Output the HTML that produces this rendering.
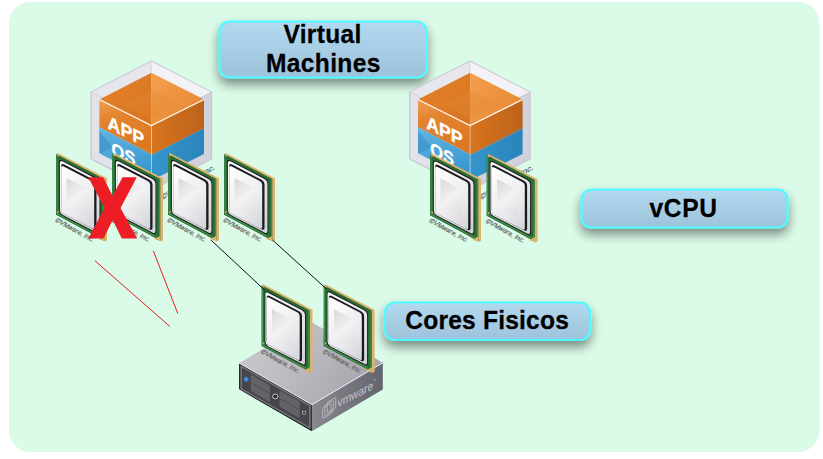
<!DOCTYPE html>
<html><head><meta charset="utf-8"><style>
html,body{margin:0;padding:0;background:#fff;width:823px;height:459px;overflow:hidden}
svg{display:block}
text{font-family:"Liberation Sans",sans-serif}
</style></head><body>
<svg width="823" height="459" viewBox="0 0 823 459">
<defs>
  <linearGradient id="lbl" x1="0" y1="0" x2="0" y2="1">
    <stop offset="0" stop-color="#b3d9ef"/>
    <stop offset="1" stop-color="#9dc3dc"/>
  </linearGradient>
  <filter id="sh" x="-10%" y="-30%" width="120%" height="190%">
    <feGaussianBlur in="SourceAlpha" stdDeviation="5.2"/>
    <feOffset dx="0" dy="5.5" result="b"/>
    <feComponentTransfer><feFuncA type="linear" slope="0.45"/></feComponentTransfer>
    <feMerge><feMergeNode/><feMergeNode in="SourceGraphic"/></feMerge>
  </filter>
  <linearGradient id="rim" x1="0" y1="0" x2="1" y2="1">
    <stop offset="0" stop-color="#fbfbfd"/>
    <stop offset="1" stop-color="#cfcfd8"/>
  </linearGradient>
  <linearGradient id="plate" x1="0" y1="0" x2="1" y2="1">
    <stop offset="0" stop-color="#ffffff"/>
    <stop offset="0.6" stop-color="#ececf0"/>
    <stop offset="1" stop-color="#d2d2da"/>
  </linearGradient>
  <linearGradient id="ihsin" x1="0" y1="0" x2="1" y2="1">
    <stop offset="0" stop-color="#d8d8d8"/>
    <stop offset="0.5" stop-color="#f2f2f2"/>
    <stop offset="1" stop-color="#dcdcdc"/>
  </linearGradient>
  <g id="chip">
    <polygon points="1.2,-0.3 51,25.3 51,87.3 48.3,88.6 1.2,60" fill="#dcb46c"/>
    <polygon points="0,0.9 48.3,26 48.3,87.4 0,61.7" fill="#2a6a35"/>
    <polyline points="1,2.2 1,60.6 47.3,85.5 47.3,26.3" fill="none" stroke="#4a9c58" stroke-width="0.9"/>
    <g transform="matrix(1,0.52,0,1,0,0)">
      <rect x="3.2" y="3.9" width="41.1" height="55.3" rx="3.5" fill="#161616"/>
      <rect x="3.9" y="4.9" width="39.6" height="53.5" rx="3" fill="url(#rim)"/>
      <rect x="5.2" y="7.3" width="35.3" height="49.5" rx="3" fill="#1a1a1a"/>
      <rect x="5.2" y="9.4" width="33" height="47.4" rx="2.5" fill="url(#plate)"/>
      <rect x="10.5" y="19.5" width="21" height="28" fill="url(#ihsin)"/>
    </g>
    <polygon points="42.5,86.6 48.3,82.8 48.3,87.4" fill="#dcb46c"/>
    <circle cx="2.2" cy="59" r="0.9" fill="#e0b060"/>
    <circle cx="2.2" cy="2.3" r="0.9" fill="#e0b060"/>
    <text x="0" y="0" transform="translate(-1.6,68.3) rotate(28.5) skewX(-14)" font-size="6.6" fill="#666" stroke="#666" stroke-width="0.18">©VMware, Inc.</text>
  </g>
  <linearGradient id="orTopL" x1="0" y1="0" x2="1" y2="1">
    <stop offset="0" stop-color="#e3822c"/>
    <stop offset="1" stop-color="#d9741e"/>
  </linearGradient>
  <linearGradient id="orTopR" x1="0" y1="0" x2="1" y2="1">
    <stop offset="0" stop-color="#f4a050"/>
    <stop offset="1" stop-color="#e6842c"/>
  </linearGradient>
  <linearGradient id="orL" x1="0" y1="0" x2="0.3" y2="1">
    <stop offset="0" stop-color="#f0a052"/>
    <stop offset="0.35" stop-color="#e48430"/>
    <stop offset="1" stop-color="#dc7822"/>
  </linearGradient>
  <linearGradient id="orR" x1="0" y1="0" x2="1" y2="0">
    <stop offset="0" stop-color="#d8741f"/>
    <stop offset="1" stop-color="#bc631a"/>
  </linearGradient>
  <linearGradient id="blL" x1="0" y1="0" x2="0.3" y2="1">
    <stop offset="0" stop-color="#62b4e2"/>
    <stop offset="1" stop-color="#3a98d0"/>
  </linearGradient>
  <linearGradient id="blR" x1="0" y1="0" x2="1" y2="0">
    <stop offset="0" stop-color="#3596cc"/>
    <stop offset="1" stop-color="#2a84bc"/>
  </linearGradient>
  <g id="vm">
    <!-- glass outer -->
    <polygon points="151.3,60.3 212.2,91.7 212.2,159.2 151.3,191 90.4,159.2 90.4,91.7" fill="#c9c9d3"/>
    <polygon points="151.3,61.5 151.3,122.5 92,92" fill="#e6e6ec"/>
    <polygon points="151.3,61.5 210.5,92 151.3,122.5" fill="#f3f3f7"/>
    <polygon points="91.8,92.6 151.3,123 151.3,188.8 91.8,158.4" fill="#e2e2ea"/>
    <polygon points="210.8,92.6 151.3,123 151.3,188.8 210.8,158.4" fill="#d2d2dc"/>
    <line x1="151.3" y1="61" x2="151.3" y2="73" stroke="#d4d4dc" stroke-width="0.8"/>
    <!-- inner top -->
    <polygon points="151.5,72.8 151.5,125.6 99.4,99.5" fill="url(#orTopL)"/>
    <polygon points="151.5,72.8 204,99.5 151.5,125.6" fill="url(#orTopR)"/>
    <polygon points="151.5,90 180,104.5 151.5,119 123,104.5" fill="#e58a35" opacity="0.35"/>
    <!-- left face -->
    <polygon points="99.4,99.5 151.5,125.6 151.5,154.4 99.4,127.3" fill="url(#orL)"/>
    <polygon points="99.4,127.3 151.5,154.4 151.5,180.5 99.4,153.3" fill="url(#blL)"/>
    <polygon points="99.4,131 113,147.5 99.4,153.3" fill="#2f86bf" opacity="0.45"/>
    <!-- right face -->
    <polygon points="151.5,125.6 204,99.5 204,128.3 151.5,155" fill="url(#orR)"/>
    <polygon points="151.5,155 204,128.3 204,154 151.5,180.5" fill="url(#blR)"/>
    <!-- highlight edges -->
    <polyline points="99.4,99.5 151.5,125.6 204,99.5" fill="none" stroke="#ffffff" stroke-width="1.3" opacity="0.95"/>
    <line x1="151.5" y1="125.6" x2="151.5" y2="180.5" stroke="#ffffff" stroke-width="0.8" opacity="0.55"/>
    <g transform="matrix(1,0.5,0,1,0,0)" fill="#fff" font-weight="bold" font-size="18" stroke="#fff" stroke-width="0.35">
      <text x="107.6" y="74.4" font-size="18.5" textLength="36.5" lengthAdjust="spacingAndGlyphs">APP</text>
      <text x="111.6" y="98.5" font-size="18" textLength="23.8" lengthAdjust="spacingAndGlyphs">OS</text>
    </g>
    <text transform="matrix(1,-0.59,0,1,0,0)" x="161.5" y="295.8" font-size="8.2" textLength="53.5" lengthAdjust="spacingAndGlyphs" fill="#5a5a62" stroke="#5a5a62" stroke-width="0.15">©VMware, Inc.</text>
  </g>
</defs>

<rect x="9" y="2" width="810.5" height="450" rx="21" fill="#dafbe8"/>

<!-- labels -->
<g filter="url(#sh)">
  <rect x="219.5" y="21.5" width="207" height="56" rx="10" fill="url(#lbl)" stroke="#50faff" stroke-width="2.2"/>
  <rect x="581.5" y="189.5" width="206" height="38" rx="10" fill="url(#lbl)" stroke="#50faff" stroke-width="2.2"/>
  <rect x="385" y="302.5" width="205" height="37.5" rx="10" fill="url(#lbl)" stroke="#50faff" stroke-width="2.2"/>
</g>
<g font-weight="bold" font-size="24.6" fill="#000" text-anchor="middle" stroke="#000" stroke-width="0.25">
  <text x="322.4" y="42.9" textLength="78" transform="matrix(1,0,0,1.055,0,-2.359)">Virtual</text>
  <text x="323.2" y="72.1" textLength="114.5" transform="matrix(1,0,0,1.055,0,-3.965)">Machines</text>
  <text x="683.3" y="217" textLength="67.5" transform="matrix(1,0,0,1.055,0,-11.935)">vCPU</text>
  <text x="487.1" y="328.8" textLength="163.5" transform="matrix(1,0,0,1.055,0,-18.084)">Cores Fisicos</text>
</g>

<!-- VMs -->
<use href="#vm"/>
<use href="#vm" transform="translate(318.6,0)"/>

<!-- chips row -->
<use href="#chip" transform="translate(56,153)"/>
<use href="#chip" transform="translate(112,153)"/>
<use href="#chip" transform="translate(168,153)"/>
<use href="#chip" transform="translate(224,153)"/>
<use href="#chip" transform="translate(430,153.5)"/>
<use href="#chip" transform="translate(486.6,154)"/>

<!-- red X -->
<polygon points="88.2,177.3 103,177.3 112.7,196 122.5,177.3 136.8,177.3 120.5,208 137.2,238.6 121.8,238.6 112.7,220 103.5,238.6 88.2,238.6 104.7,208" fill="#ed1d25"/>

<!-- red lines -->
<line x1="94.9" y1="260.7" x2="169.9" y2="326.5" stroke="#e41e1e" stroke-width="1"/>
<line x1="153.3" y1="250.8" x2="177.8" y2="313.5" stroke="#e41e1e" stroke-width="1"/>
<!-- server -->
<g id="server">
  <linearGradient id="srvTop" x1="0" y1="0" x2="1" y2="0.4">
    <stop offset="0" stop-color="#cacace"/>
    <stop offset="0.5" stop-color="#bcbcc2"/>
    <stop offset="1" stop-color="#a6a6ae"/>
  </linearGradient>
  <linearGradient id="srvR" x1="0" y1="0" x2="1" y2="0">
    <stop offset="0" stop-color="#88888f"/>
    <stop offset="1" stop-color="#64646e"/>
  </linearGradient>
  <polygon points="239.1,363.1 310,321.3 382.8,362.8 311.9,404.6" fill="url(#srvTop)"/>
  <polygon points="239.1,363.1 311.9,404.6 311.9,431.3 239.1,389.3" fill="#111113"/>
  <g transform="matrix(1,0.57,0,1,0,0)">
    <rect x="240.3" y="228" width="70.4" height="24.2" fill="#7a7a80"/>
    <rect x="241.9" y="229.6" width="67.2" height="21" fill="#46464a"/>
    <rect x="250.8" y="231.5" width="19.2" height="16.5" fill="#646468"/>
    <rect x="279.6" y="231" width="20" height="16.5" fill="#646468"/>
    <line x1="250.8" y1="239.7" x2="270" y2="239.7" stroke="#4a4a4e" stroke-width="0.8"/>
    <line x1="279.6" y1="239.2" x2="299.6" y2="239.2" stroke="#4a4a4e" stroke-width="0.8"/>
  </g>
  <polygon points="311.9,404.6 382.8,362.8 382.8,389.5 311.9,431.3" fill="url(#srvR)"/>
  <polyline points="239.1,363.1 311.9,404.6 382.8,362.8" fill="none" stroke="#f2f2f6" stroke-width="1"/>
  <circle cx="246.2" cy="379.2" r="1.7" fill="#4a9cff"/>
  <circle cx="246.2" cy="379.2" r="2.9" fill="#3a90ff" opacity="0.35"/>
  <ellipse cx="275.3" cy="396.4" rx="2.6" ry="2.4" fill="#2a2a2c" stroke="#d8d8dc" stroke-width="0.9"/>
  <rect x="302.3" y="411.5" width="3.4" height="2.6" fill="#2a2a2c" stroke="#d8d8dc" stroke-width="0.6"/>
  <g transform="matrix(1,-0.51,0,1,0,0)">
    <text x="337.6" y="579.5" font-size="12" fill="#c4c4ca" textLength="35.5" lengthAdjust="spacingAndGlyphs">vmware</text>
    <circle cx="375" cy="571" r="0.8" fill="none" stroke="#c4c4ca" stroke-width="0.4"/>
  </g>
  <g transform="matrix(1,-0.59,0,1,0,0)">
    <rect x="322.6" y="598.5" width="8.5" height="10.5" rx="1" fill="none" stroke="#c0c0c6" stroke-width="0.7"/>
    <rect x="324.9" y="597" width="8.5" height="10.5" rx="1" fill="none" stroke="#c0c0c6" stroke-width="0.7"/>
    <rect x="327.2" y="595.5" width="8.5" height="10.5" rx="1" fill="none" stroke="#c0c0c6" stroke-width="0.7"/>
  </g>
</g>
<use href="#chip" transform="translate(261.5,284.4)"/>
<use href="#chip" transform="translate(323.6,284.4)"/>
<!-- black lines -->
<line x1="210.9" y1="240" x2="264.7" y2="290.1" stroke="#111" stroke-width="1"/>
<line x1="272.5" y1="240" x2="326.7" y2="289.2" stroke="#111" stroke-width="1"/>

</svg>
</body></html>
